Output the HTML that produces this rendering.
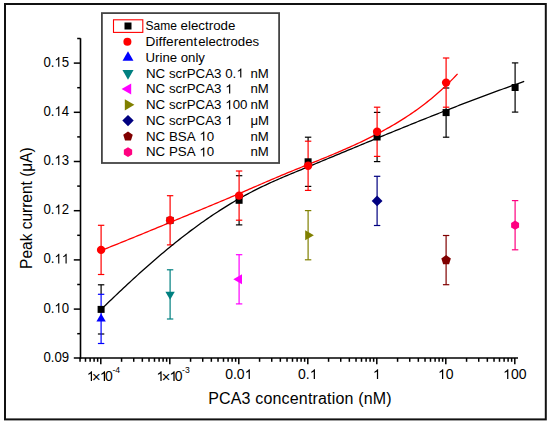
<!DOCTYPE html>
<html><head><meta charset="utf-8"><style>
html,body{margin:0;padding:0;background:#fff;}
body{width:550px;height:424px;overflow:hidden;position:relative;}
svg{position:absolute;left:0;top:0;display:block;}
text{font-family:"Liberation Sans",sans-serif;fill:#000;font-kerning:none;}
.t13{font-size:13.5px;}
.ty{font-size:14px;}
.t15{font-size:15.5px;}
.t16{font-size:16px;}
.t12{font-size:13.2px;}
.tx{font-size:14.8px;}
.sup{font-size:8.6px;}
</style></head><body>
<svg width="550" height="424" viewBox="0 0 550 424">
<rect x="0" y="0" width="550" height="424" fill="#fff"/>
<rect x="5" y="4" width="540.8" height="415.4" fill="none" stroke="#111" stroke-width="2"/>
<line x1="80.5" y1="38.3" x2="80.5" y2="358.8" stroke="#000" stroke-width="1.6"/>
<line x1="79.7" y1="358.0" x2="518" y2="358.0" stroke="#000" stroke-width="1.6"/>
<line x1="73.8" y1="358.00" x2="80.5" y2="358.00" stroke="#000" stroke-width="1.5"/>
<line x1="77.2" y1="333.70" x2="80.5" y2="333.70" stroke="#000" stroke-width="1.5"/>
<line x1="73.8" y1="309.10" x2="80.5" y2="309.10" stroke="#000" stroke-width="1.5"/>
<line x1="77.2" y1="284.50" x2="80.5" y2="284.50" stroke="#000" stroke-width="1.5"/>
<line x1="73.8" y1="259.90" x2="80.5" y2="259.90" stroke="#000" stroke-width="1.5"/>
<line x1="77.2" y1="235.30" x2="80.5" y2="235.30" stroke="#000" stroke-width="1.5"/>
<line x1="73.8" y1="210.70" x2="80.5" y2="210.70" stroke="#000" stroke-width="1.5"/>
<line x1="77.2" y1="186.10" x2="80.5" y2="186.10" stroke="#000" stroke-width="1.5"/>
<line x1="73.8" y1="161.50" x2="80.5" y2="161.50" stroke="#000" stroke-width="1.5"/>
<line x1="77.2" y1="136.90" x2="80.5" y2="136.90" stroke="#000" stroke-width="1.5"/>
<line x1="73.8" y1="112.30" x2="80.5" y2="112.30" stroke="#000" stroke-width="1.5"/>
<line x1="77.2" y1="87.70" x2="80.5" y2="87.70" stroke="#000" stroke-width="1.5"/>
<line x1="73.8" y1="63.10" x2="80.5" y2="63.10" stroke="#000" stroke-width="1.5"/>
<line x1="77.2" y1="38.50" x2="80.5" y2="38.50" stroke="#000" stroke-width="1.5"/>
<line x1="80.03" y1="358.0" x2="80.03" y2="361.8" stroke="#000" stroke-width="1.5"/>
<line x1="85.49" y1="358.0" x2="85.49" y2="361.8" stroke="#000" stroke-width="1.5"/>
<line x1="90.11" y1="358.0" x2="90.11" y2="361.8" stroke="#000" stroke-width="1.5"/>
<line x1="94.11" y1="358.0" x2="94.11" y2="361.8" stroke="#000" stroke-width="1.5"/>
<line x1="97.64" y1="358.0" x2="97.64" y2="361.8" stroke="#000" stroke-width="1.5"/>
<line x1="100.80" y1="358.0" x2="100.80" y2="364.3" stroke="#000" stroke-width="1.5"/>
<line x1="121.57" y1="358.0" x2="121.57" y2="361.8" stroke="#000" stroke-width="1.5"/>
<line x1="133.72" y1="358.0" x2="133.72" y2="361.8" stroke="#000" stroke-width="1.5"/>
<line x1="142.34" y1="358.0" x2="142.34" y2="361.8" stroke="#000" stroke-width="1.5"/>
<line x1="149.03" y1="358.0" x2="149.03" y2="361.8" stroke="#000" stroke-width="1.5"/>
<line x1="154.49" y1="358.0" x2="154.49" y2="361.8" stroke="#000" stroke-width="1.5"/>
<line x1="159.11" y1="358.0" x2="159.11" y2="361.8" stroke="#000" stroke-width="1.5"/>
<line x1="163.11" y1="358.0" x2="163.11" y2="361.8" stroke="#000" stroke-width="1.5"/>
<line x1="166.64" y1="358.0" x2="166.64" y2="361.8" stroke="#000" stroke-width="1.5"/>
<line x1="169.80" y1="358.0" x2="169.80" y2="364.3" stroke="#000" stroke-width="1.5"/>
<line x1="190.57" y1="358.0" x2="190.57" y2="361.8" stroke="#000" stroke-width="1.5"/>
<line x1="202.72" y1="358.0" x2="202.72" y2="361.8" stroke="#000" stroke-width="1.5"/>
<line x1="211.34" y1="358.0" x2="211.34" y2="361.8" stroke="#000" stroke-width="1.5"/>
<line x1="218.03" y1="358.0" x2="218.03" y2="361.8" stroke="#000" stroke-width="1.5"/>
<line x1="223.49" y1="358.0" x2="223.49" y2="361.8" stroke="#000" stroke-width="1.5"/>
<line x1="228.11" y1="358.0" x2="228.11" y2="361.8" stroke="#000" stroke-width="1.5"/>
<line x1="232.11" y1="358.0" x2="232.11" y2="361.8" stroke="#000" stroke-width="1.5"/>
<line x1="235.64" y1="358.0" x2="235.64" y2="361.8" stroke="#000" stroke-width="1.5"/>
<line x1="238.80" y1="358.0" x2="238.80" y2="364.3" stroke="#000" stroke-width="1.5"/>
<line x1="259.57" y1="358.0" x2="259.57" y2="361.8" stroke="#000" stroke-width="1.5"/>
<line x1="271.72" y1="358.0" x2="271.72" y2="361.8" stroke="#000" stroke-width="1.5"/>
<line x1="280.34" y1="358.0" x2="280.34" y2="361.8" stroke="#000" stroke-width="1.5"/>
<line x1="287.03" y1="358.0" x2="287.03" y2="361.8" stroke="#000" stroke-width="1.5"/>
<line x1="292.49" y1="358.0" x2="292.49" y2="361.8" stroke="#000" stroke-width="1.5"/>
<line x1="297.11" y1="358.0" x2="297.11" y2="361.8" stroke="#000" stroke-width="1.5"/>
<line x1="301.11" y1="358.0" x2="301.11" y2="361.8" stroke="#000" stroke-width="1.5"/>
<line x1="304.64" y1="358.0" x2="304.64" y2="361.8" stroke="#000" stroke-width="1.5"/>
<line x1="307.80" y1="358.0" x2="307.80" y2="364.3" stroke="#000" stroke-width="1.5"/>
<line x1="328.57" y1="358.0" x2="328.57" y2="361.8" stroke="#000" stroke-width="1.5"/>
<line x1="340.72" y1="358.0" x2="340.72" y2="361.8" stroke="#000" stroke-width="1.5"/>
<line x1="349.34" y1="358.0" x2="349.34" y2="361.8" stroke="#000" stroke-width="1.5"/>
<line x1="356.03" y1="358.0" x2="356.03" y2="361.8" stroke="#000" stroke-width="1.5"/>
<line x1="361.49" y1="358.0" x2="361.49" y2="361.8" stroke="#000" stroke-width="1.5"/>
<line x1="366.11" y1="358.0" x2="366.11" y2="361.8" stroke="#000" stroke-width="1.5"/>
<line x1="370.11" y1="358.0" x2="370.11" y2="361.8" stroke="#000" stroke-width="1.5"/>
<line x1="373.64" y1="358.0" x2="373.64" y2="361.8" stroke="#000" stroke-width="1.5"/>
<line x1="376.80" y1="358.0" x2="376.80" y2="364.3" stroke="#000" stroke-width="1.5"/>
<line x1="397.57" y1="358.0" x2="397.57" y2="361.8" stroke="#000" stroke-width="1.5"/>
<line x1="409.72" y1="358.0" x2="409.72" y2="361.8" stroke="#000" stroke-width="1.5"/>
<line x1="418.34" y1="358.0" x2="418.34" y2="361.8" stroke="#000" stroke-width="1.5"/>
<line x1="425.03" y1="358.0" x2="425.03" y2="361.8" stroke="#000" stroke-width="1.5"/>
<line x1="430.49" y1="358.0" x2="430.49" y2="361.8" stroke="#000" stroke-width="1.5"/>
<line x1="435.11" y1="358.0" x2="435.11" y2="361.8" stroke="#000" stroke-width="1.5"/>
<line x1="439.11" y1="358.0" x2="439.11" y2="361.8" stroke="#000" stroke-width="1.5"/>
<line x1="442.64" y1="358.0" x2="442.64" y2="361.8" stroke="#000" stroke-width="1.5"/>
<line x1="445.80" y1="358.0" x2="445.80" y2="364.3" stroke="#000" stroke-width="1.5"/>
<line x1="466.57" y1="358.0" x2="466.57" y2="361.8" stroke="#000" stroke-width="1.5"/>
<line x1="478.72" y1="358.0" x2="478.72" y2="361.8" stroke="#000" stroke-width="1.5"/>
<line x1="487.34" y1="358.0" x2="487.34" y2="361.8" stroke="#000" stroke-width="1.5"/>
<line x1="494.03" y1="358.0" x2="494.03" y2="361.8" stroke="#000" stroke-width="1.5"/>
<line x1="499.49" y1="358.0" x2="499.49" y2="361.8" stroke="#000" stroke-width="1.5"/>
<line x1="504.11" y1="358.0" x2="504.11" y2="361.8" stroke="#000" stroke-width="1.5"/>
<line x1="508.11" y1="358.0" x2="508.11" y2="361.8" stroke="#000" stroke-width="1.5"/>
<line x1="511.64" y1="358.0" x2="511.64" y2="361.8" stroke="#000" stroke-width="1.5"/>
<line x1="514.80" y1="358.0" x2="514.80" y2="364.3" stroke="#000" stroke-width="1.5"/>
<g transform="translate(69.10,0) scale(0.93,1) translate(-69.10,0)"><text x="41.46" y="361.90" style="font-size:14.2px" fill="#000" xml:space="preserve">0.09</text></g>
<g transform="translate(69.10,0) scale(0.93,1) translate(-69.10,0)"><text x="41.46" y="312.70" style="font-size:14.2px" fill="#000" xml:space="preserve">0.</text>
<path d="M763,0 L583,0 L583,1147 C540,1106 483,1065 412,1024 C342,983 279,952 223,931 L223,1105 C324,1152 411,1210 486,1278 C561,1346 614,1410 645,1466 L763,1466 Z" transform="translate(53.31,312.70) scale(0.00693,-0.00666)" fill="#000"/>
<text x="61.20" y="312.70" style="font-size:14.2px" fill="#000" xml:space="preserve">0</text></g>
<g transform="translate(69.10,0) scale(0.93,1) translate(-69.10,0)"><text x="41.46" y="263.50" style="font-size:14.2px" fill="#000" xml:space="preserve">0.</text>
<path d="M763,0 L583,0 L583,1147 C540,1106 483,1065 412,1024 C342,983 279,952 223,931 L223,1105 C324,1152 411,1210 486,1278 C561,1346 614,1410 645,1466 L763,1466 Z" transform="translate(53.31,263.50) scale(0.00693,-0.00666)" fill="#000"/>
<path d="M763,0 L583,0 L583,1147 C540,1106 483,1065 412,1024 C342,983 279,952 223,931 L223,1105 C324,1152 411,1210 486,1278 C561,1346 614,1410 645,1466 L763,1466 Z" transform="translate(61.20,263.50) scale(0.00693,-0.00666)" fill="#000"/></g>
<g transform="translate(69.10,0) scale(0.93,1) translate(-69.10,0)"><text x="41.46" y="214.30" style="font-size:14.2px" fill="#000" xml:space="preserve">0.</text>
<path d="M763,0 L583,0 L583,1147 C540,1106 483,1065 412,1024 C342,983 279,952 223,931 L223,1105 C324,1152 411,1210 486,1278 C561,1346 614,1410 645,1466 L763,1466 Z" transform="translate(53.31,214.30) scale(0.00693,-0.00666)" fill="#000"/>
<text x="61.20" y="214.30" style="font-size:14.2px" fill="#000" xml:space="preserve">2</text></g>
<g transform="translate(69.10,0) scale(0.93,1) translate(-69.10,0)"><text x="41.46" y="165.10" style="font-size:14.2px" fill="#000" xml:space="preserve">0.</text>
<path d="M763,0 L583,0 L583,1147 C540,1106 483,1065 412,1024 C342,983 279,952 223,931 L223,1105 C324,1152 411,1210 486,1278 C561,1346 614,1410 645,1466 L763,1466 Z" transform="translate(53.31,165.10) scale(0.00693,-0.00666)" fill="#000"/>
<text x="61.20" y="165.10" style="font-size:14.2px" fill="#000" xml:space="preserve">3</text></g>
<g transform="translate(69.10,0) scale(0.93,1) translate(-69.10,0)"><text x="41.46" y="115.90" style="font-size:14.2px" fill="#000" xml:space="preserve">0.</text>
<path d="M763,0 L583,0 L583,1147 C540,1106 483,1065 412,1024 C342,983 279,952 223,931 L223,1105 C324,1152 411,1210 486,1278 C561,1346 614,1410 645,1466 L763,1466 Z" transform="translate(53.31,115.90) scale(0.00693,-0.00666)" fill="#000"/>
<text x="61.20" y="115.90" style="font-size:14.2px" fill="#000" xml:space="preserve">4</text></g>
<g transform="translate(69.10,0) scale(0.93,1) translate(-69.10,0)"><text x="41.46" y="66.70" style="font-size:14.2px" fill="#000" xml:space="preserve">0.</text>
<path d="M763,0 L583,0 L583,1147 C540,1106 483,1065 412,1024 C342,983 279,952 223,931 L223,1105 C324,1152 411,1210 486,1278 C561,1346 614,1410 645,1466 L763,1466 Z" transform="translate(53.31,66.70) scale(0.00693,-0.00666)" fill="#000"/>
<text x="61.20" y="66.70" style="font-size:14.2px" fill="#000" xml:space="preserve">5</text></g>
<path d="M763,0 L583,0 L583,1147 C540,1106 483,1065 412,1024 C342,983 279,952 223,931 L223,1105 C324,1152 411,1210 486,1278 C561,1346 614,1410 645,1466 L763,1466 Z" transform="translate(86.80,381.00) scale(0.00684,-0.00657)" fill="#000"/>
<text x="92.10" y="382.4" class="tx">&#215;</text>
<path d="M763,0 L583,0 L583,1147 C540,1106 483,1065 412,1024 C342,983 279,952 223,931 L223,1105 C324,1152 411,1210 486,1278 C561,1346 614,1410 645,1466 L763,1466 Z" transform="translate(99.80,381.00) scale(0.00684,-0.00657)" fill="#000"/>
<text x="105.05" y="381.00" style="font-size:14px" fill="#000" xml:space="preserve">0</text>
<text x="112.50" y="372.90" style="font-size:8.6px" fill="#000" xml:space="preserve">-4</text>
<path d="M763,0 L583,0 L583,1147 C540,1106 483,1065 412,1024 C342,983 279,952 223,931 L223,1105 C324,1152 411,1210 486,1278 C561,1346 614,1410 645,1466 L763,1466 Z" transform="translate(156.40,381.00) scale(0.00684,-0.00657)" fill="#000"/>
<text x="161.70" y="382.4" class="tx">&#215;</text>
<path d="M763,0 L583,0 L583,1147 C540,1106 483,1065 412,1024 C342,983 279,952 223,931 L223,1105 C324,1152 411,1210 486,1278 C561,1346 614,1410 645,1466 L763,1466 Z" transform="translate(169.40,381.00) scale(0.00684,-0.00657)" fill="#000"/>
<text x="174.65" y="381.00" style="font-size:14px" fill="#000" xml:space="preserve">0</text>
<text x="182.10" y="372.90" style="font-size:8.6px" fill="#000" xml:space="preserve">-3</text>
<text x="225.18" y="379.00" style="font-size:14px" fill="#000" xml:space="preserve">0.0</text>
<path d="M763,0 L583,0 L583,1147 C540,1106 483,1065 412,1024 C342,983 279,952 223,931 L223,1105 C324,1152 411,1210 486,1278 C561,1346 614,1410 645,1466 L763,1466 Z" transform="translate(244.64,379.00) scale(0.00684,-0.00657)" fill="#000"/>
<text x="298.07" y="379.00" style="font-size:14px" fill="#000" xml:space="preserve">0.</text>
<path d="M763,0 L583,0 L583,1147 C540,1106 483,1065 412,1024 C342,983 279,952 223,931 L223,1105 C324,1152 411,1210 486,1278 C561,1346 614,1410 645,1466 L763,1466 Z" transform="translate(309.74,379.00) scale(0.00684,-0.00657)" fill="#000"/>
<path d="M763,0 L583,0 L583,1147 C540,1106 483,1065 412,1024 C342,983 279,952 223,931 L223,1105 C324,1152 411,1210 486,1278 C561,1346 614,1410 645,1466 L763,1466 Z" transform="translate(372.91,379.00) scale(0.00684,-0.00657)" fill="#000"/>
<path d="M763,0 L583,0 L583,1147 C540,1106 483,1065 412,1024 C342,983 279,952 223,931 L223,1105 C324,1152 411,1210 486,1278 C561,1346 614,1410 645,1466 L763,1466 Z" transform="translate(438.01,379.00) scale(0.00684,-0.00657)" fill="#000"/>
<text x="445.80" y="379.00" style="font-size:14px" fill="#000" xml:space="preserve">0</text>
<path d="M763,0 L583,0 L583,1147 C540,1106 483,1065 412,1024 C342,983 279,952 223,931 L223,1105 C324,1152 411,1210 486,1278 C561,1346 614,1410 645,1466 L763,1466 Z" transform="translate(503.12,379.00) scale(0.00684,-0.00657)" fill="#000"/>
<text x="510.91" y="379.00" style="font-size:14px" fill="#000" xml:space="preserve">00</text>
<text x="208.2" y="403.6" class="t16" style="letter-spacing:0.17px">PCA3 concentration (nM)</text>
<text transform="translate(31.5,268.9) rotate(-90) scale(1,1.05)" class="t15">Peak current (&#956;A)</text>
<g>
<line x1="101.10" y1="284.80" x2="101.10" y2="294.30" stroke="#000000" stroke-width="1.2"/>
<line x1="97.90" y1="284.80" x2="104.30" y2="284.80" stroke="#000000" stroke-width="1.2"/>
<line x1="97.90" y1="334.00" x2="104.30" y2="334.00" stroke="#000000" stroke-width="1.2"/>
<line x1="239.10" y1="220.20" x2="239.10" y2="224.90" stroke="#000000" stroke-width="1.2"/>
<line x1="235.90" y1="175.70" x2="242.30" y2="175.70" stroke="#000000" stroke-width="1.2"/>
<line x1="235.90" y1="224.90" x2="242.30" y2="224.90" stroke="#000000" stroke-width="1.2"/>
<line x1="308.10" y1="137.20" x2="308.10" y2="141.20" stroke="#000000" stroke-width="1.2"/>
<line x1="304.90" y1="137.20" x2="311.30" y2="137.20" stroke="#000000" stroke-width="1.2"/>
<line x1="304.90" y1="186.40" x2="311.30" y2="186.40" stroke="#000000" stroke-width="1.2"/>
<line x1="377.10" y1="156.40" x2="377.10" y2="161.60" stroke="#000000" stroke-width="1.2"/>
<line x1="373.90" y1="112.40" x2="380.30" y2="112.40" stroke="#000000" stroke-width="1.2"/>
<line x1="373.90" y1="161.60" x2="380.30" y2="161.60" stroke="#000000" stroke-width="1.2"/>
<line x1="446.10" y1="107.20" x2="446.10" y2="137.20" stroke="#000000" stroke-width="1.2"/>
<line x1="442.90" y1="88.00" x2="449.30" y2="88.00" stroke="#000000" stroke-width="1.2"/>
<line x1="442.90" y1="137.20" x2="449.30" y2="137.20" stroke="#000000" stroke-width="1.2"/>
<line x1="515.10" y1="62.90" x2="515.10" y2="112.10" stroke="#000000" stroke-width="1.2"/>
<line x1="511.90" y1="62.90" x2="518.30" y2="62.90" stroke="#000000" stroke-width="1.2"/>
<line x1="511.90" y1="112.10" x2="518.30" y2="112.10" stroke="#000000" stroke-width="1.2"/>
<line x1="101.10" y1="225.30" x2="101.10" y2="274.50" stroke="#ff0000" stroke-width="1.2"/>
<line x1="97.90" y1="225.30" x2="104.30" y2="225.30" stroke="#ff0000" stroke-width="1.2"/>
<line x1="97.90" y1="274.50" x2="104.30" y2="274.50" stroke="#ff0000" stroke-width="1.2"/>
<line x1="170.10" y1="195.70" x2="170.10" y2="244.90" stroke="#ff0000" stroke-width="1.2"/>
<line x1="166.90" y1="195.70" x2="173.30" y2="195.70" stroke="#ff0000" stroke-width="1.2"/>
<line x1="166.90" y1="244.90" x2="173.30" y2="244.90" stroke="#ff0000" stroke-width="1.2"/>
<line x1="239.10" y1="171.00" x2="239.10" y2="220.20" stroke="#ff0000" stroke-width="1.2"/>
<line x1="235.90" y1="171.00" x2="242.30" y2="171.00" stroke="#ff0000" stroke-width="1.2"/>
<line x1="235.90" y1="220.20" x2="242.30" y2="220.20" stroke="#ff0000" stroke-width="1.2"/>
<line x1="308.10" y1="141.20" x2="308.10" y2="190.40" stroke="#ff0000" stroke-width="1.2"/>
<line x1="304.90" y1="141.20" x2="311.30" y2="141.20" stroke="#ff0000" stroke-width="1.2"/>
<line x1="304.90" y1="190.40" x2="311.30" y2="190.40" stroke="#ff0000" stroke-width="1.2"/>
<line x1="377.10" y1="107.20" x2="377.10" y2="156.40" stroke="#ff0000" stroke-width="1.2"/>
<line x1="373.90" y1="107.20" x2="380.30" y2="107.20" stroke="#ff0000" stroke-width="1.2"/>
<line x1="373.90" y1="156.40" x2="380.30" y2="156.40" stroke="#ff0000" stroke-width="1.2"/>
<line x1="446.10" y1="58.00" x2="446.10" y2="107.20" stroke="#ff0000" stroke-width="1.2"/>
<line x1="442.90" y1="58.00" x2="449.30" y2="58.00" stroke="#ff0000" stroke-width="1.2"/>
<line x1="442.90" y1="107.20" x2="449.30" y2="107.20" stroke="#ff0000" stroke-width="1.2"/>
<line x1="101.10" y1="294.30" x2="101.10" y2="343.50" stroke="#0000ff" stroke-width="1.2"/>
<line x1="97.90" y1="294.30" x2="104.30" y2="294.30" stroke="#0000ff" stroke-width="1.2"/>
<line x1="97.90" y1="343.50" x2="104.30" y2="343.50" stroke="#0000ff" stroke-width="1.2"/>
<line x1="170.10" y1="269.80" x2="170.10" y2="319.00" stroke="#008080" stroke-width="1.2"/>
<line x1="166.90" y1="269.80" x2="173.30" y2="269.80" stroke="#008080" stroke-width="1.2"/>
<line x1="166.90" y1="319.00" x2="173.30" y2="319.00" stroke="#008080" stroke-width="1.2"/>
<line x1="239.10" y1="254.70" x2="239.10" y2="303.90" stroke="#ff00ff" stroke-width="1.2"/>
<line x1="235.90" y1="254.70" x2="242.30" y2="254.70" stroke="#ff00ff" stroke-width="1.2"/>
<line x1="235.90" y1="303.90" x2="242.30" y2="303.90" stroke="#ff00ff" stroke-width="1.2"/>
<line x1="308.10" y1="210.60" x2="308.10" y2="259.80" stroke="#808000" stroke-width="1.2"/>
<line x1="304.90" y1="210.60" x2="311.30" y2="210.60" stroke="#808000" stroke-width="1.2"/>
<line x1="304.90" y1="259.80" x2="311.30" y2="259.80" stroke="#808000" stroke-width="1.2"/>
<line x1="377.10" y1="176.30" x2="377.10" y2="225.50" stroke="#000080" stroke-width="1.2"/>
<line x1="373.90" y1="176.30" x2="380.30" y2="176.30" stroke="#000080" stroke-width="1.2"/>
<line x1="373.90" y1="225.50" x2="380.30" y2="225.50" stroke="#000080" stroke-width="1.2"/>
<line x1="446.10" y1="235.50" x2="446.10" y2="284.70" stroke="#800000" stroke-width="1.2"/>
<line x1="442.90" y1="235.50" x2="449.30" y2="235.50" stroke="#800000" stroke-width="1.2"/>
<line x1="442.90" y1="284.70" x2="449.30" y2="284.70" stroke="#800000" stroke-width="1.2"/>
<line x1="515.10" y1="200.60" x2="515.10" y2="249.80" stroke="#ff0080" stroke-width="1.2"/>
<line x1="511.90" y1="200.60" x2="518.30" y2="200.60" stroke="#ff0080" stroke-width="1.2"/>
<line x1="511.90" y1="249.80" x2="518.30" y2="249.80" stroke="#ff0080" stroke-width="1.2"/>
<polyline points="101.50,309.08 103.50,307.14 105.50,305.20 107.50,303.27 109.50,301.34 111.50,299.42 113.50,297.51 115.50,295.60 117.50,293.70 119.50,291.81 121.50,289.92 123.50,288.05 125.50,286.18 127.50,284.32 129.50,282.46 131.50,280.62 133.50,278.78 135.50,276.96 137.50,275.14 139.50,273.33 141.50,271.53 143.50,269.74 145.50,267.96 147.50,266.19 149.50,264.43 151.50,262.68 153.50,260.94 155.50,259.21 157.50,257.49 159.50,255.78 161.50,254.09 163.50,252.40 165.50,250.73 167.50,249.07 169.50,247.42 171.50,245.79 173.50,244.16 175.50,242.55 177.50,240.95 179.50,239.37 181.50,237.80 183.50,236.24 185.50,234.69 187.50,233.16 189.50,231.64 191.50,230.14 193.50,228.65 195.50,227.18 197.50,225.72 199.50,224.27 201.50,222.84 203.50,221.43 205.50,220.03 207.50,218.64 209.50,217.27 211.50,215.91 213.50,214.57 215.50,213.24 217.50,211.93 219.50,210.63 221.50,209.35 223.50,208.09 225.50,206.83 227.50,205.60 229.50,204.38 231.50,203.17 233.50,201.98 235.50,200.81 237.50,199.65 239.50,198.50 241.50,197.37 243.50,196.26 245.50,195.16 247.50,194.08 249.50,193.01 251.50,191.96 253.50,190.93 255.50,189.91 257.50,188.91 259.50,187.92 261.50,186.94 263.50,185.98 265.50,185.04 267.50,184.10 269.50,183.18 271.50,182.27 273.50,181.37 275.50,180.48 277.50,179.60 279.50,178.73 281.50,177.87 283.50,177.02 285.50,176.17 287.50,175.33 289.50,174.50 291.50,173.67 293.50,172.84 295.50,172.01 297.50,171.19 299.50,170.36 301.50,169.54 303.50,168.71 305.50,167.89 307.50,167.06 309.50,166.23 311.50,165.40 313.50,164.58 315.50,163.75 317.50,162.92 319.50,162.09 321.50,161.26 323.50,160.43 325.50,159.60 327.50,158.77 329.50,157.94 331.50,157.11 333.50,156.28 335.50,155.45 337.50,154.62 339.50,153.79 341.50,152.96 343.50,152.12 345.50,151.29 347.50,150.46 349.50,149.63 351.50,148.80 353.50,147.98 355.50,147.15 357.50,146.32 359.50,145.49 361.50,144.66 363.50,143.83 365.50,143.01 367.50,142.18 369.50,141.35 371.50,140.53 373.50,139.70 375.50,138.88 377.50,138.06 379.50,137.23 381.50,136.41 383.50,135.59 385.50,134.77 387.50,133.95 389.50,133.13 391.50,132.31 393.50,131.49 395.50,130.68 397.50,129.86 399.50,129.05 401.50,128.24 403.50,127.42 405.50,126.61 407.50,125.80 409.50,124.99 411.50,124.19 413.50,123.38 415.50,122.58 417.50,121.77 419.50,120.97 421.50,120.17 423.50,119.37 425.50,118.57 427.50,117.77 429.50,116.98 431.50,116.18 433.50,115.39 435.50,114.60 437.50,113.81 439.50,113.02 441.50,112.24 443.50,111.45 445.50,110.67 447.50,109.89 449.50,109.11 451.50,108.33 453.50,107.55 455.50,106.78 457.50,106.00 459.50,105.23 461.50,104.46 463.50,103.69 465.50,102.93 467.50,102.16 469.50,101.40 471.50,100.64 473.50,99.88 475.50,99.13 477.50,98.37 479.50,97.62 481.50,96.87 483.50,96.12 485.50,95.38 487.50,94.63 489.50,93.89 491.50,93.15 493.50,92.41 495.50,91.68 497.50,90.95 499.50,90.22 501.50,89.49 503.50,88.76 505.50,88.04 507.50,87.32 509.50,86.60 511.50,85.88 513.50,85.17 515.50,84.46 517.50,83.75 519.50,83.04 521.50,82.34 523.50,81.64 524.20,81.39" fill="none" stroke="#000" stroke-width="1.3" stroke-linejoin="round"/>
<polyline points="101.30,250.45 103.30,249.66 105.30,248.87 107.30,248.07 109.30,247.27 111.30,246.47 113.30,245.67 115.30,244.87 117.30,244.06 119.30,243.25 121.30,242.45 123.30,241.64 125.30,240.83 127.30,240.02 129.30,239.20 131.30,238.39 133.30,237.57 135.30,236.76 137.30,235.94 139.30,235.12 141.30,234.30 143.30,233.48 145.30,232.66 147.30,231.84 149.30,231.01 151.30,230.19 153.30,229.36 155.30,228.54 157.30,227.71 159.30,226.89 161.30,226.06 163.30,225.23 165.30,224.40 167.30,223.58 169.30,222.75 171.30,221.92 173.30,221.09 175.30,220.26 177.30,219.43 179.30,218.60 181.30,217.77 183.30,216.94 185.30,216.12 187.30,215.29 189.30,214.46 191.30,213.63 193.30,212.80 195.30,211.97 197.30,211.14 199.30,210.31 201.30,209.49 203.30,208.66 205.30,207.83 207.30,207.00 209.30,206.17 211.30,205.34 213.30,204.51 215.30,203.68 217.30,202.84 219.30,202.01 221.30,201.17 223.30,200.33 225.30,199.49 227.30,198.64 229.30,197.80 231.30,196.95 233.30,196.10 235.30,195.24 237.30,194.39 239.30,193.53 241.30,192.67 243.30,191.80 245.30,190.94 247.30,190.07 249.30,189.20 251.30,188.33 253.30,187.47 255.30,186.60 257.30,185.73 259.30,184.86 261.30,184.00 263.30,183.13 265.30,182.27 267.30,181.41 269.30,180.55 271.30,179.69 273.30,178.84 275.30,177.99 277.30,177.14 279.30,176.30 281.30,175.46 283.30,174.62 285.30,173.79 287.30,172.97 289.30,172.15 291.30,171.33 293.30,170.51 295.30,169.70 297.30,168.89 299.30,168.08 301.30,167.27 303.30,166.47 305.30,165.66 307.30,164.86 309.30,164.05 311.30,163.24 313.30,162.44 315.30,161.63 317.30,160.82 319.30,160.01 321.30,159.19 323.30,158.38 325.30,157.55 327.30,156.73 329.30,155.90 331.30,155.07 333.30,154.23 335.30,153.39 337.30,152.54 339.30,151.69 341.30,150.83 343.30,149.96 345.30,149.09 347.30,148.21 349.30,147.32 351.30,146.42 353.30,145.52 355.30,144.60 357.30,143.68 359.30,142.74 361.30,141.80 363.30,140.85 365.30,139.88 367.30,138.91 369.30,137.92 371.30,136.92 373.30,135.90 375.30,134.88 377.30,133.84 379.30,132.79 381.30,131.72 383.30,130.64 385.30,129.55 387.30,128.44 389.30,127.31 391.30,126.17 393.30,125.01 395.30,123.83 397.30,122.63 399.30,121.41 401.30,120.17 403.30,118.91 405.30,117.63 407.30,116.33 409.30,115.00 411.30,113.65 413.30,112.27 415.30,110.87 417.30,109.44 419.30,107.98 421.30,106.50 423.30,104.99 425.30,103.45 427.30,101.87 429.30,100.27 431.30,98.64 433.30,96.97 435.30,95.27 437.30,93.53 439.30,91.77 441.30,89.96 443.30,88.12 445.30,86.25 447.30,84.33 449.30,82.38 451.30,80.39 453.30,78.36 455.30,76.28 457.30,74.17 457.60,73.85" fill="none" stroke="#ff0000" stroke-width="1.3" stroke-linejoin="round"/>
<rect x="97.60" y="305.90" width="7.0" height="7.0" fill="#000000"/>
<rect x="166.60" y="216.90" width="7.0" height="7.0" fill="#000000"/>
<rect x="235.60" y="196.80" width="7.0" height="7.0" fill="#000000"/>
<rect x="304.60" y="158.30" width="7.0" height="7.0" fill="#000000"/>
<rect x="373.60" y="133.50" width="7.0" height="7.0" fill="#000000"/>
<rect x="442.60" y="109.10" width="7.0" height="7.0" fill="#000000"/>
<rect x="511.60" y="84.00" width="7.0" height="7.0" fill="#000000"/>
<circle cx="101.10" cy="249.90" r="4.2" fill="#ff0000"/>
<circle cx="170.10" cy="220.30" r="4.2" fill="#ff0000"/>
<circle cx="239.10" cy="195.60" r="4.2" fill="#ff0000"/>
<circle cx="308.10" cy="165.80" r="4.2" fill="#ff0000"/>
<circle cx="377.10" cy="131.80" r="4.2" fill="#ff0000"/>
<circle cx="446.10" cy="82.60" r="4.2" fill="#ff0000"/>
<polygon points="101.10,313.50 105.78,321.60 96.42,321.60" fill="#0000ff"/>
<polygon points="170.10,299.80 165.42,291.70 174.78,291.70" fill="#008080"/>
<polygon points="233.30,279.30 242.00,274.28 242.00,284.32" fill="#ff00ff"/>
<polygon points="313.90,235.20 305.20,240.22 305.20,230.18" fill="#808000"/>
<polygon points="382.50,200.90 377.10,206.30 371.70,200.90 377.10,195.50" fill="#000080"/>
<polygon points="446.10,255.10 450.86,258.55 449.04,264.15 443.16,264.15 441.34,258.55" fill="#800000"/>
<polygon points="515.10,220.60 519.08,222.90 519.08,227.50 515.10,229.80 511.12,227.50 511.12,222.90" fill="#ff0080"/>
</g>
<rect x="101.9" y="13.1" width="177.2" height="149.9" fill="#fff" stroke="#444" stroke-width="1.8"/>
<rect x="113.5" y="19.8" width="29.3" height="12.6" fill="none" stroke="#ff0000" stroke-width="1.1"/>
<rect x="124.50" y="22.50" width="7.0" height="7.0" fill="#000000"/>
<g transform="translate(145.60,0) scale(0.91,1) translate(-145.60,0)"><text x="145.60" y="30.30" style="font-size:13.2px" fill="#000" xml:space="preserve">Same</text></g>
<g transform="translate(180.60,0) scale(1.01,1) translate(-180.60,0)"><text x="180.60" y="30.30" style="font-size:13.2px" fill="#000" xml:space="preserve">electrode</text></g>
<circle cx="127.40" cy="41.77" r="4.0" fill="#ff0000"/>
<g transform="translate(145.60,0) scale(1.035,1) translate(-145.60,0)"><text x="145.60" y="46.07" style="font-size:13.2px" fill="#000" xml:space="preserve">Different</text></g>
<text x="198.25" y="46.07" style="font-size:13.2px" fill="#000" xml:space="preserve">electrodes</text>
<polygon points="128.00,51.24 133.46,60.69 122.54,60.69" fill="#0000ff"/>
<text x="145.60" y="61.84" style="font-size:13.2px" fill="#000" xml:space="preserve">Urine only</text>
<polygon points="128.00,79.71 122.46,70.11 133.54,70.11" fill="#008080"/>
<g transform="translate(146.00,0) scale(1.01,1) translate(-146.00,0)"><text x="146.00" y="77.61" style="font-size:13.2px" fill="#000" xml:space="preserve">NC scrPCA3 0.</text>
<path d="M763,0 L583,0 L583,1147 C540,1106 483,1065 412,1024 C342,983 279,952 223,931 L223,1105 C324,1152 411,1210 486,1278 C561,1346 614,1410 645,1466 L763,1466 Z" transform="translate(235.49,77.61) scale(0.00645,-0.00619)" fill="#000"/></g>
<text x="250.4" y="77.61" class="t12">nM</text>
<polygon points="121.60,89.08 131.20,83.54 131.20,94.62" fill="#ff00ff"/>
<g transform="translate(146.00,0) scale(1.01,1) translate(-146.00,0)"><text x="146.00" y="93.38" style="font-size:13.2px" fill="#000" xml:space="preserve">NC scrPCA3 </text>
<path d="M763,0 L583,0 L583,1147 C540,1106 483,1065 412,1024 C342,983 279,952 223,931 L223,1105 C324,1152 411,1210 486,1278 C561,1346 614,1410 645,1466 L763,1466 Z" transform="translate(224.48,93.38) scale(0.00645,-0.00619)" fill="#000"/></g>
<text x="250.4" y="93.38" class="t12">nM</text>
<polygon points="134.40,104.85 124.80,110.39 124.80,99.31" fill="#808000"/>
<g transform="translate(146.00,0) scale(1.01,1) translate(-146.00,0)"><text x="146.00" y="109.15" style="font-size:13.2px" fill="#000" xml:space="preserve">NC scrPCA3 </text>
<path d="M763,0 L583,0 L583,1147 C540,1106 483,1065 412,1024 C342,983 279,952 223,931 L223,1105 C324,1152 411,1210 486,1278 C561,1346 614,1410 645,1466 L763,1466 Z" transform="translate(224.48,109.15) scale(0.00645,-0.00619)" fill="#000"/>
<text x="231.82" y="109.15" style="font-size:13.2px" fill="#000" xml:space="preserve">00</text></g>
<text x="250.4" y="109.15" class="t12">nM</text>
<polygon points="133.70,120.62 128.00,126.32 122.30,120.62 128.00,114.92" fill="#000080"/>
<g transform="translate(146.00,0) scale(1.01,1) translate(-146.00,0)"><text x="146.00" y="124.92" style="font-size:13.2px" fill="#000" xml:space="preserve">NC scrPCA3 </text>
<path d="M763,0 L583,0 L583,1147 C540,1106 483,1065 412,1024 C342,983 279,952 223,931 L223,1105 C324,1152 411,1210 486,1278 C561,1346 614,1410 645,1466 L763,1466 Z" transform="translate(224.48,124.92) scale(0.00645,-0.00619)" fill="#000"/></g>
<text x="250.4" y="124.92" class="t12">&#956;M</text>
<polygon points="128.00,131.39 132.76,134.84 130.94,140.44 125.06,140.44 123.24,134.84" fill="#800000"/>
<g transform="translate(146.00,0) scale(1.01,1) translate(-146.00,0)"><text x="146.00" y="140.69" style="font-size:13.2px" fill="#000" xml:space="preserve">NC BSA </text>
<path d="M763,0 L583,0 L583,1147 C540,1106 483,1065 412,1024 C342,983 279,952 223,931 L223,1105 C324,1152 411,1210 486,1278 C561,1346 614,1410 645,1466 L763,1466 Z" transform="translate(198.81,140.69) scale(0.00645,-0.00619)" fill="#000"/>
<text x="206.15" y="140.69" style="font-size:13.2px" fill="#000" xml:space="preserve">0</text></g>
<text x="250.4" y="140.69" class="t12">nM</text>
<polygon points="128.00,147.36 132.16,149.76 132.16,154.56 128.00,156.96 123.84,154.56 123.84,149.76" fill="#ff0080"/>
<g transform="translate(146.00,0) scale(1.01,1) translate(-146.00,0)"><text x="146.00" y="156.46" style="font-size:13.2px" fill="#000" xml:space="preserve">NC PSA </text>
<path d="M763,0 L583,0 L583,1147 C540,1106 483,1065 412,1024 C342,983 279,952 223,931 L223,1105 C324,1152 411,1210 486,1278 C561,1346 614,1410 645,1466 L763,1466 Z" transform="translate(198.81,156.46) scale(0.00645,-0.00619)" fill="#000"/>
<text x="206.15" y="156.46" style="font-size:13.2px" fill="#000" xml:space="preserve">0</text></g>
<text x="250.4" y="156.46" class="t12">nM</text>
</svg>
</body></html>
